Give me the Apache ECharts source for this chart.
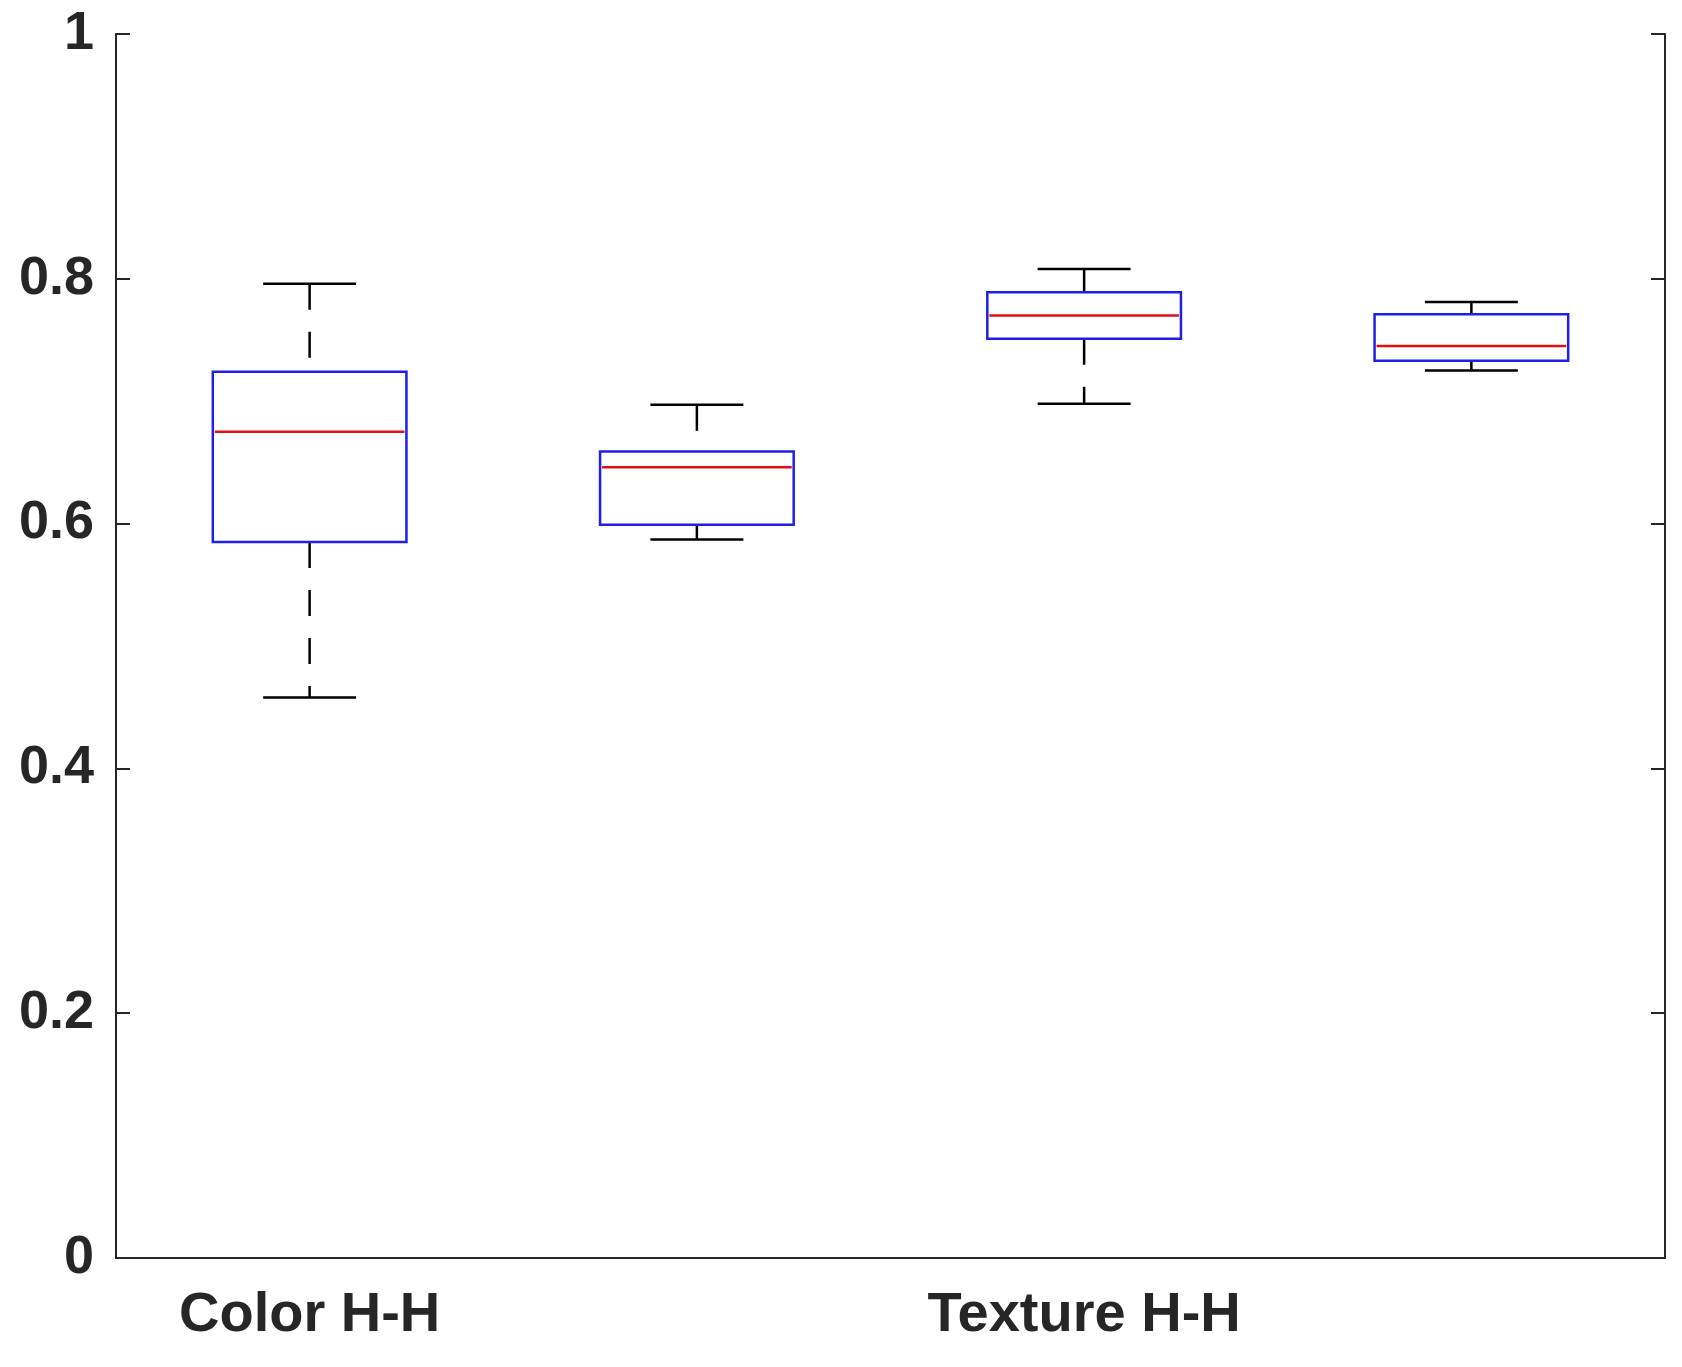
<!DOCTYPE html>
<html><head><meta charset="utf-8">
<script src="https://cdn.jsdelivr.net/npm/echarts@6/dist/echarts.min.js"></script>
<style>html,body{margin:0;padding:0;background:#fff}#c{width:1682px;height:1367px}</style>
</head><body><div id="c"></div>
<script>
const categories = ['Color H-H', 'Color S-H', 'Texture H-H', 'texture S-H'];
const whiskerLow = [0.458, 0.587, 0.698, 0.725];
const q1 = [0.585, 0.599, 0.751, 0.733];
const median = [0.675, 0.646, 0.770, 0.745];
const q3 = [0.724, 0.659, 0.789, 0.771];
const whiskerHigh = [0.796, 0.697, 0.808, 0.781];
const yTicks = [0, 0.2, 0.4, 0.6, 0.8, 1];

const data = categories.map((c, i) => [i, whiskerLow[i], q1[i], median[i], q3[i], whiskerHigh[i]]);
const chart = echarts.init(document.getElementById('c'));
const font = {fontFamily: 'Liberation Sans, Arial', fontWeight: 'bold', fontSize: 54, color: '#262626'};
chart.setOption({
  animation: false,
  grid: {left: 116, right: 17, top: 34, bottom: 109},
  xAxis: [
    {type: 'category', data: categories, boundaryGap: true,
     axisLine: {lineStyle: {color: '#262626', width: 2}},
     axisTick: {inside: true, alignWithLabel: true, length: 14, lineStyle: {color: '#262626', width: 2}},
     axisLabel: Object.assign({}, font, {margin: 30, fontSize: 56}), splitLine: {show: false}},
    {type: 'category', data: categories, position: 'top', boundaryGap: true,
     axisLine: {lineStyle: {color: '#262626', width: 2}},
     axisTick: {inside: true, alignWithLabel: true, length: 14, lineStyle: {color: '#262626', width: 2}},
     axisLabel: {show: false}}
  ],
  yAxis: [
    {type: 'value', min: 0, max: 1, interval: 0.2,
     axisLine: {show: true, lineStyle: {color: '#262626', width: 2}},
     axisTick: {show: true, inside: true, length: 14, lineStyle: {color: '#262626', width: 2}},
     axisLabel: Object.assign({margin: 22, formatter: v => String(Math.round(v*10)/10)}, font),
     splitLine: {show: false}},
    {type: 'value', min: 0, max: 1, interval: 0.2, position: 'right',
     axisLine: {show: true, lineStyle: {color: '#262626', width: 2}},
     axisTick: {show: true, inside: true, length: 14, lineStyle: {color: '#262626', width: 2}},
     axisLabel: {show: false}, splitLine: {show: false}}
  ],
  series: [{
    type: 'custom',
    data: data,
    encode: {x: 0, y: [1, 2, 3, 4, 5]},
    renderItem: function (params, api) {
      const x = api.value(0);
      const pLo = api.coord([x, api.value(1)]);
      const pQ1 = api.coord([x, api.value(2)]);
      const pMed = api.coord([x, api.value(3)]);
      const pQ3 = api.coord([x, api.value(4)]);
      const pHi = api.coord([x, api.value(5)]);
      const bw = api.size([1, 0])[0];
      const boxW = bw * 0.5, capW = bw * 0.24;
      const cx = pMed[0];
      const black = {stroke: '#000', lineWidth: 2.5};
      return {type: 'group', children: [
        {type: 'line', shape: {x1: cx, y1: pHi[1], x2: cx, y2: pQ3[1]}, style: Object.assign({lineDash: [26, 22]}, black)},
        {type: 'line', shape: {x1: cx, y1: pQ1[1], x2: cx, y2: pLo[1]}, style: Object.assign({lineDash: [26, 22]}, black)},
        {type: 'line', shape: {x1: cx - capW/2, y1: pHi[1], x2: cx + capW/2, y2: pHi[1]}, style: black},
        {type: 'line', shape: {x1: cx - capW/2, y1: pLo[1], x2: cx + capW/2, y2: pLo[1]}, style: black},
        {type: 'rect', shape: {x: cx - boxW/2, y: pQ3[1], width: boxW, height: pQ1[1] - pQ3[1]}, style: {fill: '#fff', stroke: '#1f1fe6', lineWidth: 2.5}},
        {type: 'line', shape: {x1: cx - boxW/2 + 2, y1: pMed[1], x2: cx + boxW/2 - 2, y2: pMed[1]}, style: {stroke: '#e01010', lineWidth: 2.5}}
      ]};
    }
  }]
});
</script></body></html>
